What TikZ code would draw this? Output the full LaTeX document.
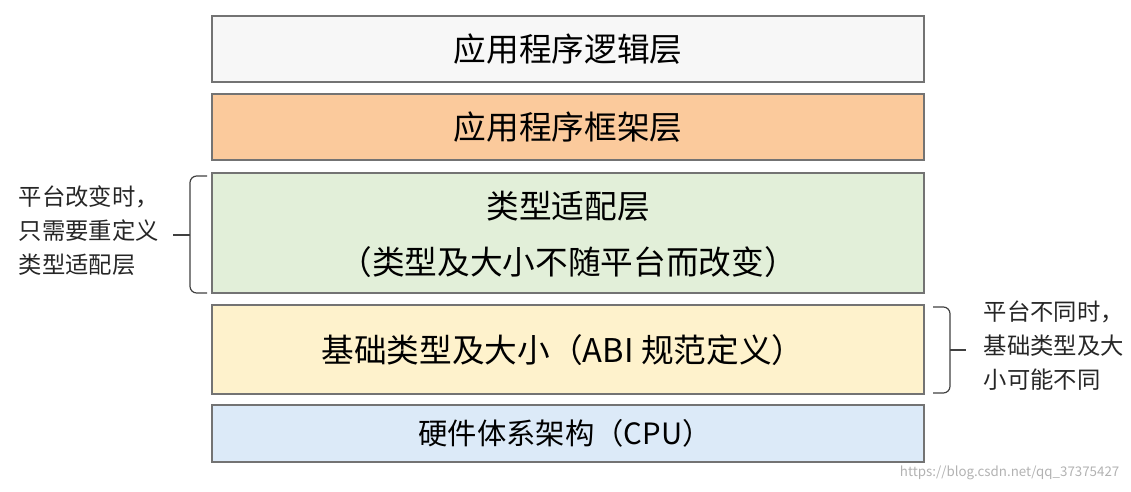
\documentclass[tikz,border=0pt]{standalone}
\usepackage{fontspec}
\setmainfont{Noto Sans CJK SC}
\begin{document}
\begin{tikzpicture}[x=0.75pt,y=-0.75pt,
  layer/.style={draw=black!55,line width=0.8pt},
  big/.style={font=\fontsize{24.5}{28}\selectfont},
  side/.style={font=\fontsize{17.5}{25.5}\selectfont,align=left,text=black!85},
  brc/.style={draw=black!75,line width=0.9pt,rounded corners=5pt}]
\useasboundingbox (0,0) rectangle (1131,492);
\definecolor{c1}{HTML}{F7F7F7}
\definecolor{c2}{HTML}{FBCA9C}
\definecolor{c3}{HTML}{E2EFD9}
\definecolor{c4}{HTML}{FEF2CC}
\definecolor{c5}{HTML}{DCEAF8}
\draw[layer,fill=c1] (212,16) rectangle (924,82);
\node[big] (t1) at (568,49) {应用程序逻辑层};
\draw[layer,fill=c2] (212,94) rectangle (924,160);
\node[big] (t2) at (568,127) {应用程序框架层};
\draw[layer,fill=c3] (212,173) rectangle (924,293);
\node[big] (t3) at (568,206) {类型适配层};
\node[big] (t3b) at (568,262) {（类型及大小不随平台而改变）};
\draw[layer,fill=c4] (212,305) rectangle (924,394);
\node[big] (t4) at (563,350) {基础类型及大小（ABI 规范定义）};
\draw[layer,fill=c5] (212,405) rectangle (924,462);
\node[font=\fontsize{22}{26}\selectfont] (t5) at (565,433) {硬件体系架构（CPU）};
% left brace
\draw[brc] (207,176) -- (190,176) -- (190,293) -- (207,293);
\draw[draw=black!75,line width=0.9pt] (190,235) -- (173,235);
\node[side,anchor=west] (lt) at (14,231) {平台改变时，\\只需要重定义\\类型适配层};
% right brace
\draw[brc] (933,307) -- (950,307) -- (950,393) -- (933,393);
\draw[draw=black!75,line width=0.9pt] (950,350) -- (966,350);
\node[side,anchor=west] (rt) at (979,346) {平台不同时，\\基础类型及大\\小可能不同};
\node[anchor=east,font=\fontsize{10}{12}\selectfont,text=black!30] (wm) at (1124,473) {https://blog.csdn.net/qq\_37375427};
\end{tikzpicture}
\end{document}
